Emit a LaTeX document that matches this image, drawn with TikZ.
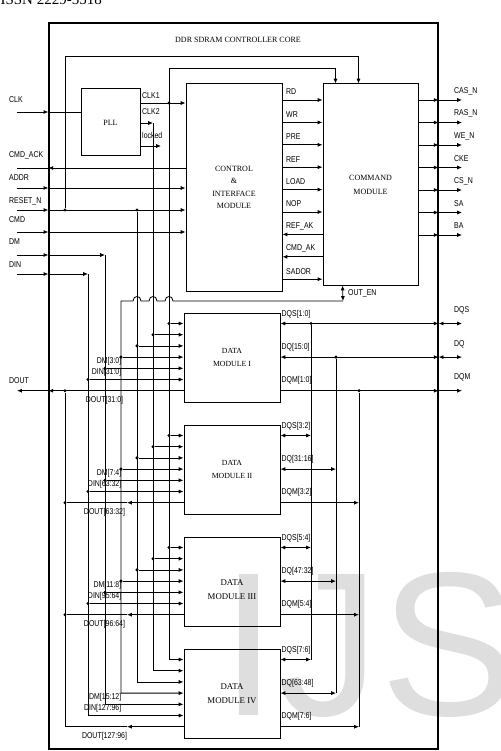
\documentclass[tikz,border=0pt]{standalone}
\usepackage{fontspec}
\setmainfont{Liberation Serif}
\newfontfamily\signame[FakeStretch=0.82]{Liberation Sans}
\newfontfamily\wmark{Liberation Sans}
\usetikzlibrary{positioning, calc, arrows.meta}

\tikzset{
  block/.style={draw, line width=1pt, inner sep=0pt, align=center, font=\fontsize{8}{12.5}\selectfont},
  lbl/.style={inner sep=0pt, font=\signame\fontsize{8.5}{9}\selectfont},
  wire/.style={line width=0.8pt},
  arr/.style={wire, -{Latex[length=4.8pt, width=4pt]}},
  rarr/.style={wire, {Latex[length=4.8pt, width=4pt]}-},
  biarr/.style={wire, {Latex[length=4.8pt, width=4pt]}-{Latex[length=4.8pt, width=4pt]}},
  jdot/.style={circle, fill, inner sep=0pt, minimum size=3.4pt},
}

\begin{document}
\begin{tikzpicture}[x=1pt, y=-1pt]
\useasboundingbox (0,0) rectangle (500,751);

% journal header and watermark
\node[anchor=base west, font=\fontsize{15}{15}\selectfont] (issn) at (-3,4.5) {ISSN 2229-5518};
\node[anchor=base west, text=black!13, font=\wmark\fontsize{205}{205}\selectfont] (wm) at (217,715) {IJS};

% blocks
\node[draw, line width=1.2pt, minimum width=389pt, minimum height=726pt] (core) at (243.5,386) {};
\node[font=\fontsize{8}{10}\selectfont] (title) at (238,40) {DDR SDRAM CONTROLLER CORE};
\node[block, minimum width=59pt, minimum height=67pt] (pll) at (110.5,122.5) {PLL};
\node[block, minimum width=96pt, minimum height=207pt] (ctrl) at (234,187.5) {CONTROL\\\&\\INTERFACE\\MODULE};
\node[block, minimum width=95pt, minimum height=201pt, font=\fontsize{8}{14}\selectfont] (cmd) at (370.5,184.5) {COMMAND\\MODULE};
\foreach \i/\nm/\fs/\dy in {1/I/7.8/0, 2/II/7.8/0, 3/III/8.8/8, 4/IV/8.8/0} {
  \node[block, minimum width=96pt, minimum height=89pt] (dm\i) at (232,{357.5+112*(\i-1)}) {};
  \node[align=center, font=\fontsize{\fs}{13.5}\selectfont] (dm\i t) at ($(dm\i)+(0,\dy)$) {DATA\\MODULE \nm};
}

% rows on the data modules
\foreach \i in {1,...,4} {
  \foreach \r in {1,...,7} {
    \coordinate (r\i\r) at ($(dm\i.north west)+(0,{11+11.2*(\r-1)})$);
  }
}
\foreach \r/\bx in {1/169, 2/153, 3/137, 4/121, 5/105, 6/88, 7/65} \coordinate (bus\r) at (\bx,0);
\foreach \q/\bx in {1/311, 2/336, 3/359} \coordinate (bq\q) at (\bx,0);
\coordinate (midx) at (127,0);
\coordinate (oport) at (462,0);

% left side ports
\foreach \id/\yy/\txt/\ly in {clk/112/CLK/100, ack/168/CMD\_ACK/155, addr/188/ADDR/178, rst/210/RESET\_N/201, cin/232/CMD/220, dmi/255/DM/242, dni/274/DIN/265} {
  \coordinate (\id) at (17,\yy);
  \coordinate (\id-b) at (core.west |- \id);
  \node[lbl, anchor=west] (\id-l) at (9,\ly) {\txt};
}
\draw[arr] (clk) -- (clk-b);
\draw[wire] (clk-b) -- (pll.west |- clk);
\draw[arr] (ctrl.west |- ack) -- (ack-b);
\draw[wire] (ack-b) -- (ack);
\foreach \id in {addr, rst, cin} {
  \draw[arr] (\id) -- (\id-b);
  \draw[arr] (\id-b) -- (ctrl.west |- \id);
}
\draw[arr] (dmi) -- (dmi-b);
\draw[arr] (dmi-b) -- (bus5 |- dmi);
\draw[arr] (dni) -- (dni-b);
\draw[arr] (dni-b) -- (bus6 |- dni);

% PLL outputs
\coordinate (clk1) at (169,103);
\coordinate (clk2) at (153,123);
\coordinate (lock) at (161,146);
\coordinate (clk1top) at (169,68);
\node[lbl, anchor=west] (clk1-l) at (142,96) {CLK1};
\node[lbl, anchor=west] (clk2-l) at (142,112) {CLK2};
\node[lbl, anchor=west] (lock-l) at (142,135) {locked};
\draw[arr] (pll.east |- clk1) -- (ctrl.west |- clk1);
\node[jdot] (jc1) at (clk1) {};
\draw[arr] (pll.east |- clk2) -- (clk2);
\draw[arr] (pll.east |- lock) -- (lock);
\draw[arr] (clk1top) -| ($(cmd.north west)+(13,0)$);
\draw[arr] (clk1top) |- (r41);
\draw[arr] (clk2) |- (r42);

% reset goes to every module
\node[jdot] (jr1) at (bus7 |- rst) {};
\node[jdot] (jr2) at (bus3 |- rst) {};
\coordinate (rsttop) at (65,56);
\draw[arr] (jr1) -- (rsttop) -| ($(cmd.north west)+(36,0)$);
\draw[arr] (jr2) |- (r43);
\draw[arr] (bus5 |- dmi) |- (r45);
\draw[arr] (bus6 |- dni) |- (r46);

% OUT_EN with line jumps
\coordinate (oe) at (343,301);
\draw[biarr] ($(cmd.south west)+(20,0)$) -- (oe);
\node[lbl, anchor=west] (oe-l) at (348,293) {OUT\_EN};
\draw[arr] (oe) -- (173,301) .. controls (173,295) and (165,295) .. (165,301) -- (157,301) .. controls (157,295) and (149,295) .. (149,301) -- (141,301) .. controls (141,295) and (133,295) .. (133,301) -- (121,301) |- (r44);

% control <-> command
\foreach \txt/\st [count=\k, evaluate=\k as \yy using 100+22.4*(\k-1)] in {RD/arr, WR/arr, PRE/arr, REF/arr, LOAD/arr, NOP/arr, REF\_AK/rarr, CMD\_AK/rarr, SADOR/arr} {
  \coordinate (cc\k) at (300,\yy);
  \draw[\st] (ctrl.east |- cc\k) -- (cmd.west |- cc\k);
  \node[lbl, anchor=west] (cc\k-l) at (286,\yy-8) {\txt};
}

% command outputs
\foreach \txt [count=\k, evaluate=\k as \yy using 100+22.5*(\k-1)] in {CAS\_N, RAS\_N, WE\_N, CKE, CS\_N, SA, BA} {
  \coordinate (o\k) at (462,\yy);
  \draw[arr] (cmd.east |- o\k) -- (core.east |- o\k);
  \draw[arr] (core.east |- o\k) -- (o\k);
  \node[lbl, anchor=west] (o\k-l) at (454,\yy-9) {\txt};
}

% data module inputs
\foreach \i in {1,2,3} {
  \foreach \r in {1,...,6} {
    \node[jdot] (j\i\r) at (bus\r |- r\i\r) {};
    \draw[arr] (j\i\r) -- (r\i\r);
  }
}

% DOUT bus
\node[jdot] (jd1) at (bus7 |- r17) {};
\draw[arr] (r17) -- (core.west |- r17);
\draw[arr] (core.west |- r17) -- (clk |- r17);
\node[lbl, anchor=west] (dout-l) at (9,381) {DOUT};
\foreach \i in {2,3,4} \draw[arr] (r\i7) -- (midx |- r\i7);
\foreach \i in {2,3} {
  \node[jdot] (jd\i) at (bus7 |- r\i7) {};
  \draw[wire] (midx |- r\i7) -- (jd\i);
}
\draw[wire] (jd1) |- (midx |- r47);

% DQS, DQ, DQM
\draw[biarr] (dm1.east |- r11) -- (core.east |- r11);
\draw[biarr] (dm1.east |- r14) -- (core.east |- r14);
\draw[arr] (dm1.east |- r17) -- (core.east |- r17);
\foreach \q/\r in {1/1, 2/4, 3/7} {
  \node[jdot] (jq\q) at (bq\q |- r1\r) {};
  \draw[wire] (jq\q) -- (bq\q |- r4\r);
}
\foreach \i in {2,3,4} {
  \draw[biarr] (dm\i.east |- r\i1) -- (bq1 |- r\i1);
  \draw[biarr] (dm\i.east |- r\i4) -- (bq2 |- r\i4);
  \draw[arr] (dm\i.east |- r\i7) -- (bq3 |- r\i7);
}
\foreach \r/\txt/\st in {1/DQS/biarr, 4/DQ/biarr, 7/DQM/arr} {
  \draw[\st] (core.east |- r1\r) -- (oport |- r1\r);
  \node[lbl, anchor=west] (p\r-l) at ($(oport |- r1\r)+(-8,-13)$) {\txt};
}

% bus labels at the modules
\foreach \i/\a/\b/\c/\d/\e/\f in {1/{DM[3:0]}/{DIN[31:0]}/{DOUT[31:0]}/{DQS[1:0]}/{DQ[15:0]}/{DQM[1:0]},
    2/{DM[7:4]}/{DIN[63:32]}/{DOUT[63:32]}/{DQS[3:2]}/{DQ[31:16]}/{DQM[3:2]},
    3/{DM[11:8]}/{DIN[95:64]}/{DOUT[96:64]}/{DQS[5:4]}/{DQ[47:32]}/{DQM[5:4]},
    4/{DM[15:12]}/{DIN[127:96]}/{DOUT[127:96]}/{DQS[7:6]}/{DQ[63:48]}/{DQM[7:6]}} {
  \node[lbl, anchor=east] (dm\i-a) at ($(dm\i.north west)+(-62,49)$) {\a};
  \node[lbl, anchor=east] (dm\i-b) at ($(dm\i.north west)+(-62,60)$) {\b};
  \node[lbl] (dm\i-c) at ($(dm\i.north west)+(-79,88)$) {\c};
  \node[lbl, anchor=west] (dm\i-d) at ($(dm\i.north east)+(1,2)$) {\d};
  \node[lbl, anchor=west] (dm\i-e) at ($(dm\i.north east)+(1,35)$) {\e};
  \node[lbl, anchor=west] (dm\i-f) at ($(dm\i.north east)+(1,68)$) {\f};
}
\end{tikzpicture}
\end{document}
